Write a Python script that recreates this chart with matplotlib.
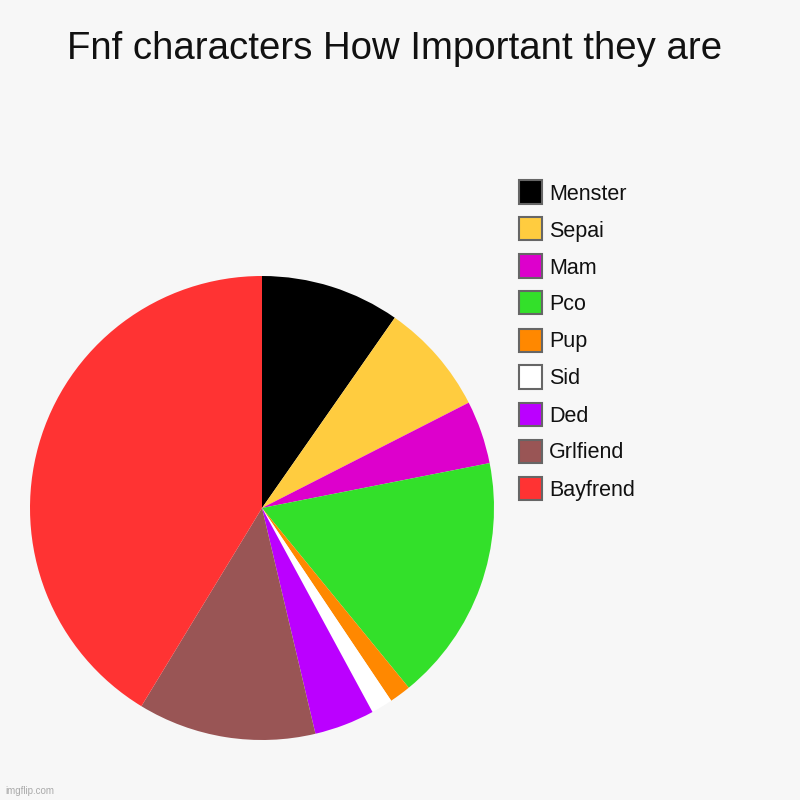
import matplotlib
matplotlib.use("Agg")
import matplotlib.pyplot as plt
from matplotlib.patches import Rectangle

plt.rcParams['font.family'] = ['Liberation Sans', 'DejaVu Sans']

# Data (clockwise from 12 o'clock)
labels = ['Menster', 'Sepai', 'Mam', 'Pco', 'Pup', 'Sid', 'Ded', 'Grlfiend', 'Bayfrend']
values = [9.7, 7.8, 4.4, 17.2, 1.5, 1.5, 4.2, 12.4, 41.3]
colors = ['#000000', '#ffcc3f', '#dd00cc', '#33e02a', '#ff8800',
          '#ffffff', '#bb00ff', '#995555', '#ff3333']

bg = '#f7f7f7'
fig = plt.figure(figsize=(8, 8), dpi=100, facecolor=bg)

# pie axes
ax = fig.add_axes([30 / 800, 60 / 800, 464 / 800, 464 / 800])
ax.set_facecolor(bg)
ax.pie(values, colors=colors, startangle=90, counterclock=False,
       wedgeprops=dict(linewidth=0))
ax.set_xlim(-1, 1)
ax.set_ylim(-1, 1)
ax.set_aspect('equal')
ax.axis('off')

fig.text(395 / 800, 1 - 49 / 800, 'Fnf characters How Important they are',
         ha='center', va='center', fontsize=27.6, color='#111111')

# legend drawn by hand to keep the imgflip look
for i, (lab, c) in enumerate(zip(labels, colors)):
    yc = 192 + i * 37
    fig.patches.append(Rectangle((519 / 800, 1 - (yc + 11.5) / 800), 23 / 800, 23 / 800,
                                 transform=fig.transFigure, facecolor=c,
                                 edgecolor='#666666', linewidth=1.5))
    fig.text(549 / 800, 1 - (yc + 2) / 800, lab, ha='left', va='center',
             fontsize=15.5, color='#111111')

fig.text(5 / 800, 1 - 791 / 800, 'imgflip.com', ha='left', va='center',
         fontsize=7, color='#aaaaaa')

fig.savefig('out.png', dpi=100, facecolor=bg)
